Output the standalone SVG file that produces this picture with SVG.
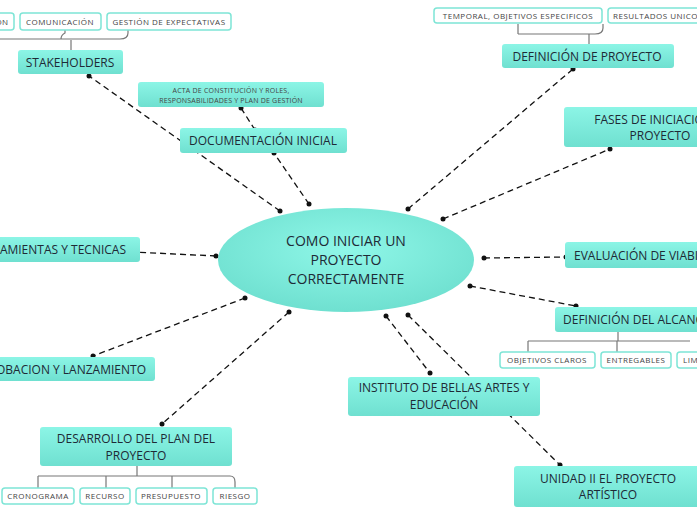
<svg xmlns="http://www.w3.org/2000/svg" width="697" height="520" viewBox="0 0 697 520">
<defs>
<linearGradient id="g" x1="0" y1="0" x2="0" y2="1"><stop offset="0" stop-color="#8cf5e6"/><stop offset="1" stop-color="#6fe0d0"/></linearGradient>
<radialGradient id="eg" cx="0.5" cy="0.4" r="0.6"><stop offset="0" stop-color="#8ff7e8"/><stop offset="1" stop-color="#6fe0d0"/></radialGradient>
<marker id="d" markerWidth="6" markerHeight="6" refX="3" refY="3" markerUnits="userSpaceOnUse"><circle cx="3" cy="3" r="2.5" fill="#111"/></marker>
</defs>
<style>
.n{fill:url(#g);}
.s{fill:#fff;stroke:#7ee5d6;stroke-width:1.5;}
.t{font-family:"Open Sans","Noto Sans",sans-serif;font-size:12px;fill:#1e2a36;text-anchor:middle;}
.st{font-family:"Open Sans","Noto Sans",sans-serif;font-size:8px;fill:#444;text-anchor:middle;letter-spacing:0.5px;}
.c path{fill:none;stroke:#111;stroke-width:1.3;stroke-dasharray:6 4;marker-start:url(#d);marker-end:url(#d);}
.b{fill:none;stroke:#777;stroke-width:1.2;}
</style>
<rect width="697" height="520" fill="#fff"/>
<g class="c">
<path d="M280 211L89 76"/>
<path d="M309 204L274 153"/>
<path d="M255 130L241 108"/>
<path d="M408 209L573 69"/>
<path d="M443 219L610 149"/>
<path d="M484 258L566 257"/>
<path d="M470 286L576 306"/>
<path d="M386 316L430 373"/>
<path d="M408 315L560 465"/>
<path d="M289 312L162 424"/>
<path d="M245 298L93 356"/>
<path d="M216 256L134 252"/>
</g>
<g class="b">
<path d="M71 50V40M-10 39H120Q128 39 128 33V30M61 39Q61 35 65 33V30"/>
<path d="M589 44V34M518 34H595Q603 34 603 28V24M518 34Q518 30 518 24"/>
<path d="M618 332V341M528 341H690M528 341Q528 345 528 352M617 341V352"/>
<path d="M137 466V476M38 476H230Q235 476 235 482V488M38 476Q38 480 38 488M106 476Q106 480 106 488M172 476Q172 480 172 488"/>
</g>
<g id="center"><ellipse cx="346" cy="260" rx="128" ry="52" fill="url(#eg)"/>
<text class="t" font-size="14" x="346" y="246" style="font-size:14px">COMO INICIAR UN</text><text class="t" x="346" y="265" style="font-size:14px">PROYECTO</text><text class="t" x="346" y="284" style="font-size:14px">CORRECTAMENTE</text></g>
<g id="stakeholders"><rect class="n" x="18" y="50" width="105" height="24" rx="3"/><text class="t" x="70" y="67">STAKEHOLDERS</text></g>
<g id="s1"><rect class="s" x="-30" y="13" width="44" height="17" rx="3"/><text class="st" x="2" y="25">ON</text></g>
<g id="s2"><rect class="s" x="20" y="13" width="81" height="17" rx="3"/><text class="st" x="60" y="25">COMUNICACIÓN</text></g>
<g id="s3"><rect class="s" x="107" y="13" width="124" height="17" rx="3"/><text class="st" x="169" y="25">GESTIÓN DE EXPECTATIVAS</text></g>
<g id="acta"><rect class="n" x="138" y="82" width="186" height="25" rx="3"/><text class="st" x="231" y="93" style="font-size:7px;letter-spacing:0.2px">ACTA DE CONSTITUCIÓN Y ROLES,</text><text class="st" x="231" y="103" style="font-size:7px;letter-spacing:0.2px">RESPONSABILIDADES Y PLAN DE GESTIÓN</text></g>
<g id="doc"><rect class="n" x="180" y="128" width="167" height="25" rx="3"/><text class="t" x="263" y="145">DOCUMENTACIÓN INICIAL</text></g>
<g id="defp"><rect class="n" x="502" y="44" width="172" height="24" rx="3"/><text class="t" x="587" y="61">DEFINICIÓN DE PROYECTO</text></g>
<g id="t1"><rect class="s" x="434" y="8" width="168" height="15" rx="3"/><text class="st" x="518" y="19">TEMPORAL, OBJETIVOS ESPECIFICOS</text></g>
<g id="t2"><rect class="s" x="608" y="8" width="110" height="15" rx="3"/><text class="st" x="658" y="19">RESULTADOS UNICOS</text></g>
<g id="fases"><rect class="n" x="564" y="107" width="190" height="40" rx="3"/><text class="t" x="666" y="124">FASES DE INICIACIÓN DEL</text><text class="t" x="660" y="140">PROYECTO</text></g>
<g id="eval"><rect class="n" x="565" y="242" width="200" height="26" rx="3"/><text class="t" x="574" y="260" style="text-anchor:start">EVALUACIÓN DE VIABILIDAD</text></g>
<g id="alc"><rect class="n" x="555" y="307" width="200" height="25" rx="3"/><text class="t" x="563" y="324" style="text-anchor:start">DEFINICIÓN DEL ALCANCE</text></g>
<g id="a1"><rect class="s" x="500" y="352" width="95" height="16" rx="3"/><text class="st" x="547" y="363">OBJETIVOS CLAROS</text></g>
<g id="a2"><rect class="s" x="601" y="352" width="70" height="16" rx="3"/><text class="st" x="636" y="363">ENTREGABLES</text></g>
<g id="a3"><rect class="s" x="677" y="352" width="60" height="16" rx="3"/><text class="st" x="683" y="363" style="text-anchor:start">LIMITES</text></g>
<g id="herr"><rect class="n" x="-60" y="237" width="200" height="25" rx="3"/><text class="t" x="126" y="254" style="text-anchor:end">HERRAMIENTAS Y TECNICAS</text></g>
<g id="prueba"><rect class="n" x="-60" y="357" width="215" height="24" rx="3"/><text class="t" x="146" y="374" style="text-anchor:end">APROBACION Y LANZAMIENTO</text></g>
<g id="inst"><rect class="n" x="348" y="377" width="192" height="39" rx="3"/><text class="t" x="444" y="392">INSTITUTO DE BELLAS ARTES Y</text><text class="t" x="444" y="409">EDUCACIÓN</text></g>
<g id="unidad"><rect class="n" x="514" y="466" width="190" height="41" rx="3"/><text class="t" x="608" y="483">UNIDAD II EL PROYECTO</text><text class="t" x="608" y="499">ARTÍSTICO</text></g>
<g id="desa"><rect class="n" x="40" y="427" width="192" height="39" rx="3"/><text class="t" x="136" y="443">DESARROLLO DEL PLAN DEL</text><text class="t" x="136" y="460">PROYECTO</text></g>
<g id="d1"><rect class="s" x="2" y="488" width="72" height="16" rx="3"/><text class="st" x="38" y="499">CRONOGRAMA</text></g>
<g id="d2"><rect class="s" x="80" y="488" width="50" height="16" rx="3"/><text class="st" x="105" y="499">RECURSO</text></g>
<g id="d3"><rect class="s" x="136" y="488" width="71" height="16" rx="3"/><text class="st" x="171" y="499">PRESUPUESTO</text></g>
<g id="d4"><rect class="s" x="213" y="488" width="44" height="16" rx="3"/><text class="st" x="235" y="499">RIESGO</text></g>
</svg>
